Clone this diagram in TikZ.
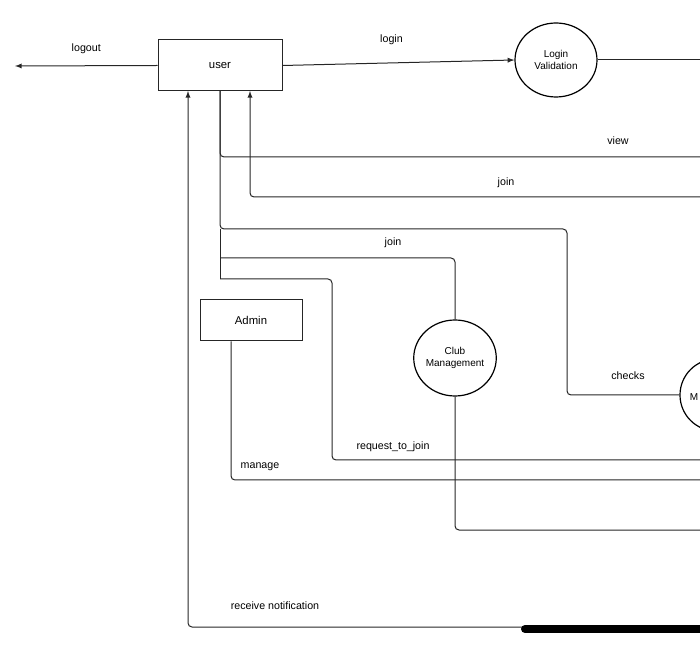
\documentclass[tikz,border=0pt]{standalone}
\usepackage{fontspec}
\setmainfont{Liberation Sans}
\usetikzlibrary{shapes.geometric}
\begin{document}
\begin{tikzpicture}[x=0.75pt,y=-0.75pt,
  ln/.style={draw=black!85,line width=0.75pt,rounded corners=3pt},
  arr/.style={ln,-latex},
  lbl/.style={font=\fontsize{8}{9.5}\selectfont},
  box/.style={draw=black!85,line width=0.75pt,minimum width=124*0.75pt,minimum height=51*0.75pt,font=\fontsize{8.5}{10}\selectfont}]
\useasboundingbox (0,0) rectangle (700,648);
\node[box] (user) at (220,65.5) {user};
\node[box,minimum width=102*0.75pt,minimum height=41*0.75pt] (admin) at (251,320.5) {Admin};
\node[draw=black,line width=0.9pt,ellipse,inner sep=0pt,minimum width=82*0.75pt,minimum height=74*0.75pt,align=center,font=\fontsize{7.5}{9}\selectfont] (login) at (556,60) {Login\\Validation};
\node[draw=black,line width=0.9pt,ellipse,inner sep=0pt,minimum width=82*0.75pt,minimum height=76*0.75pt,align=center,font=\fontsize{7.5}{9}\selectfont] (club) at (455,358) {Club\\Management};
\node[draw=black,line width=0.9pt,circle,minimum size=72*0.75pt] (m) at (716,395) {};
\node[font=\fontsize{7.5}{9}\selectfont] at (694,397) {M};
\coordinate (L) at (15,66);
\coordinate (R1) at (700,60);
\draw[arr] (user.west) -- (L) node[lbl,midway,above=5pt] {logout};
\draw[arr] (user.east) -- (login.west) node[lbl,pos=0.47,above=10pt] {login};
\draw[ln] (login.east) -- (R1);
\coordinate (u1) at (220,91);
\draw[ln] (u1) |- (700,157);
\node[lbl] at (618,141) {view};
\draw[arr] (700,197) -| (250,91);
\node[lbl] at (506,183) {join};
\draw[ln] (u1) |- (567,229) |- (m.west);
\node[lbl] at (628,376) {checks};
\draw[ln] (220,229) -- (220,279);
\draw[ln] (220,258) -| (club.north);
\node[lbl] at (393,243) {join};
\draw[ln] (220,279) -| (332,460) -- (700,460);
\node[lbl] at (393,447) {request\_to\_join};
\draw[ln] (admin.south -| 231,341) |- (700,480);
\node[lbl] at (260,467) {manage};
\draw[ln] (club.south) |- (700,530);
\draw[arr] (700,627) -| (188,91);
\node[lbl] at (275,606) {receive notification};
\draw[line width=6pt,line cap=round] (525,629) -- (705,629);
\end{tikzpicture}
\end{document}
